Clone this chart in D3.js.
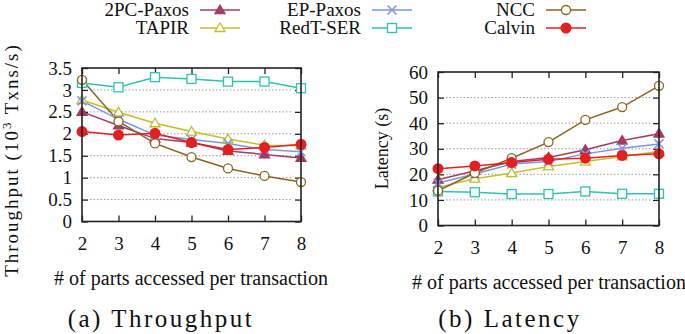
<!DOCTYPE html>
<html>
<head>
<meta charset="utf-8">
<script src="https://cdn.jsdelivr.net/npm/d3@7"></script>
<style>
  body { margin: 0; background: #fff; }
  svg text { font-family: "Liberation Serif", "Times New Roman", serif; fill: #111; }
</style>
</head>
<body>
<svg id="fig" width="685" height="334"></svg>
<script>
const width = 685, height = 334;

const parts = [2, 3, 4, 5, 6, 7, 8];

// throughput (10^3 txns/s)
const tput2PC    = [2.50, 2.19, 1.89, 1.80, 1.61, 1.53, 1.45];
const tputTAPIR  = [2.77, 2.49, 2.24, 2.05, 1.88, 1.74, 1.73];
const tputEP     = [2.75, 2.33, 1.97, 1.87, 1.78, 1.64, 1.59];
const tputRedT   = [3.16, 3.06, 3.29, 3.25, 3.19, 3.19, 3.04];
const tputNCC    = [3.23, 2.28, 1.78, 1.47, 1.21, 1.04, 0.90];
const tputCalvin = [2.05, 1.97, 2.01, 1.80, 1.64, 1.69, 1.76];

// latency (s)
const lat2PC    = [17.9, 21.4, 25.0, 26.6, 29.6, 33.2, 35.9];
const latTAPIR  = [14.9, 18.3, 20.5, 23.1, 25.0, 27.0, 28.9];
const latEP     = [16.6, 20.1, 24.0, 25.0, 28.0, 30.2, 31.9];
const latRedT   = [13.3, 13.0, 12.3, 12.3, 13.3, 12.4, 12.4];
const latNCC    = [13.6, 20.5, 26.3, 32.6, 41.3, 46.3, 54.6];
const latCalvin = [22.2, 23.3, 24.6, 25.9, 26.3, 27.4, 28.0];

const names  = ["2PC-Paxos", "TAPIR", "EP-Paxos", "RedT-SER", "NCC", "Calvin"];
const colors = ["#a33b62", "#c4bd2c", "#7a96e6", "#2ec2b2", "#8c6420", "#e3201f"];
const shapes = ["triFill", "tri", "cross", "square", "circle", "circFill"];

const tputTicks = [0, 0.5, 1, 1.5, 2, 2.5, 3, 3.5];
const latTicks  = [0, 10, 20, 30, 40, 50, 60];

const svg = d3.select("#fig");

function marker(g, shape, color, x, y) {
  if (shape === "triFill" || shape === "tri") {
    g.append("path")
      .attr("d", `M${x},${y - 5}L${x + 5},${y + 3.5}L${x - 5},${y + 3.5}Z`)
      .attr("fill", shape === "triFill" ? color : "#fff")
      .attr("stroke", color).attr("stroke-width", 1.3);
  } else if (shape === "cross") {
    g.append("path")
      .attr("d", `M${x - 4.5},${y - 4.5}L${x + 4.5},${y + 4.5}M${x - 4.5},${y + 4.5}L${x + 4.5},${y - 4.5}`)
      .attr("stroke", color).attr("stroke-width", 1.5);
  } else if (shape === "square") {
    g.append("rect")
      .attr("x", x - 4.5).attr("y", y - 4.5).attr("width", 9).attr("height", 9)
      .attr("fill", "#fff").attr("stroke", color).attr("stroke-width", 1.3);
  } else if (shape === "circle") {
    g.append("circle").attr("cx", x).attr("cy", y).attr("r", 4.5)
      .attr("fill", "#fff").attr("stroke", color).attr("stroke-width", 1.3);
  } else {
    g.append("circle").attr("cx", x).attr("cy", y).attr("r", 5.5)
      .attr("fill", color);
  }
}

function panel(box, series, ticks, yMax, tickFmt, yLabel, yLabelX, yLabelY, xLabelX) {
  const x = d3.scaleLinear().domain([2, 8]).range([box.left, box.right]);
  const y = d3.scaleLinear().domain([0, yMax]).range([box.bottom, box.top]);
  const g = svg.append("g");

  // dotted grid
  g.append("g").selectAll("line")
    .data(ticks.filter(t => t > 0 && t < yMax))
    .join("line")
    .attr("x1", box.left + 8).attr("x2", box.right - 8)
    .attr("y1", d => y(d)).attr("y2", d => y(d))
    .attr("stroke", "#999").attr("stroke-width", 1)
    .attr("stroke-dasharray", "1.5,2");

  // axes with inward ticks on all four sides
  g.append("g").attr("transform", `translate(${box.left},0)`)
    .call(d3.axisLeft(y).tickValues(ticks).tickFormat(tickFmt).tickSizeInner(-6).tickSizeOuter(0).tickPadding(10))
    .call(a => a.select(".domain").remove())
    .call(a => a.selectAll("text").style("font-size", "19px"));
  g.append("g").attr("transform", `translate(${box.right},0)`)
    .call(d3.axisRight(y).tickValues(ticks).tickFormat("").tickSizeInner(-6).tickSizeOuter(0))
    .call(a => a.select(".domain").remove());
  g.append("g").attr("transform", `translate(0,${box.bottom})`)
    .call(d3.axisBottom(x).tickValues(parts).tickFormat(d3.format("d")).tickSizeInner(-6).tickSizeOuter(0).tickPadding(15))
    .call(a => a.select(".domain").remove())
    .call(a => a.selectAll("text").style("font-size", "19px"));
  g.append("g").attr("transform", `translate(0,${box.top})`)
    .call(d3.axisTop(x).tickValues(parts).tickFormat("").tickSizeInner(-6).tickSizeOuter(0))
    .call(a => a.select(".domain").remove());
  g.selectAll(".tick line").attr("stroke", "#222").attr("stroke-width", 1.3);

  // series
  const line = d3.line().x((d, i) => x(parts[i])).y(d => y(d));
  series.forEach((vals, k) => {
    g.append("path").datum(vals).attr("d", line)
      .attr("fill", "none").attr("stroke", colors[k]).attr("stroke-width", 1.5);
  });
  series.forEach((vals, k) => {
    vals.forEach((v, i) => marker(g, shapes[k], colors[k], x(parts[i]), y(v)));
  });

  g.append("rect")
    .attr("x", box.left).attr("y", box.top)
    .attr("width", box.right - box.left).attr("height", box.bottom - box.top)
    .attr("fill", "none").attr("stroke", "#222").attr("stroke-width", 1.6);

  const yl = g.append("text")
    .attr("transform", `translate(${yLabelX},${yLabelY}) rotate(-90)`)
    .attr("text-anchor", "middle");
  yLabel(yl);

  g.append("text")
    .attr("x", xLabelX).attr("y", box.bottom + 63)
    .attr("text-anchor", "middle").style("font-size", "20px")
    .text("# of parts accessed per transaction");
}

panel({left: 82, right: 301, top: 68, bottom: 221.5},
  [tput2PC, tputTAPIR, tputEP, tputRedT, tputNCC, tputCalvin],
  tputTicks, 3.5, d3.format("~g"),
  t => {
    t.style("font-size", "19px").style("letter-spacing", "2px");
    t.append("tspan").text("Throughput (10");
    t.append("tspan").attr("dy", -7).style("font-size", "13px").text("3");
    t.append("tspan").attr("dy", 7).text(" Txns/s)");
  }, 18, 160, 191);

panel({left: 438, right: 659, top: 72, bottom: 225.5},
  [lat2PC, latTAPIR, latEP, latRedT, latNCC, latCalvin],
  latTicks, 60, d3.format("d"),
  t => t.style("font-size", "18px").text("Latency (s)"), 388, 148.5, 549);

// legend: 3 columns x 2 rows
const legendCols = [{textX: 189, lineX: 200}, {textX: 361, lineX: 372}, {textX: 535, lineX: 546}];
const legendRows = [10, 28];
const order = [0, 2, 4, 1, 3, 5];
order.forEach((k, j) => {
  const c = legendCols[j % 3], ry = legendRows[Math.floor(j / 3)];
  svg.append("text").attr("x", c.textX).attr("y", ry + 6)
    .attr("text-anchor", "end").style("font-size", "19px").text(names[k]);
  svg.append("line").attr("x1", c.lineX).attr("x2", c.lineX + 40)
    .attr("y1", ry).attr("y2", ry)
    .attr("stroke", colors[k]).attr("stroke-width", 1.5);
  const lg = svg.append("g");
  marker(lg, shapes[k], colors[k], c.lineX + 20, ry);
});

// captions
svg.append("text").attr("x", 161).attr("y", 327).attr("text-anchor", "middle")
  .style("font-size", "25px").style("letter-spacing", "2.5px").text("(a) Throughput");
svg.append("text").attr("x", 510).attr("y", 327).attr("text-anchor", "middle")
  .style("font-size", "25px").style("letter-spacing", "2.5px").text("(b) Latency");
</script>
</body>
</html>
